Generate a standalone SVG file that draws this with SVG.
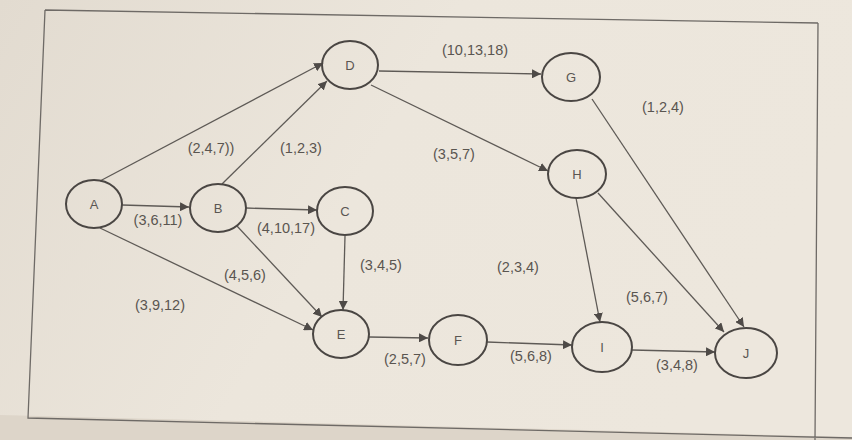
<svg xmlns="http://www.w3.org/2000/svg" width="852" height="440" viewBox="0 0 852 440">
<defs>
<linearGradient id="paper" x1="0" y1="0" x2="1" y2="0.3">
<stop offset="0" stop-color="#e2dbd0"/>
<stop offset="0.5" stop-color="#ece6dc"/>
<stop offset="1" stop-color="#ede7dd"/>
</linearGradient>
<marker id="arr" viewBox="0 0 10 10" refX="10" refY="5" markerWidth="9" markerHeight="9" markerUnits="userSpaceOnUse" orient="auto">
<path d="M0,0 L10,5 L0,10 z" fill="#4e4a47"/>
</marker>
<style>
.node ellipse{fill:none;stroke:#4a4643;stroke-width:2}
.node text{font-family:"Liberation Sans",Arial,sans-serif;font-size:13px;fill:#5a5652;text-anchor:middle;dominant-baseline:central}
#edges line{stroke:#5e5a56;stroke-width:1.3;marker-end:url(#arr)}
.lbl{font-family:"Liberation Sans",Arial,sans-serif;font-size:14.5px;fill:#5a5550;text-anchor:middle;dominant-baseline:central}
</style>
</defs>
<rect width="852" height="440" fill="url(#paper)"/>
<polygon points="0,415 852,437 852,440 0,440" fill="#ddd5c9"/>
<path d="M45,10 L818,23 M818,23 L815,440 M45,10 L28,418 L852,438" fill="none" stroke="#6e6a66" stroke-width="1.3"/>

<g id="edges">
<line x1="100" y1="181" x2="323" y2="63"/>
<line x1="122" y1="205" x2="189" y2="207"/>
<line x1="100" y1="228" x2="313" y2="330"/>
<line x1="222" y1="184" x2="327" y2="81"/>
<line x1="246" y1="208" x2="317" y2="210"/>
<line x1="237" y1="226" x2="322" y2="317"/>
<line x1="345" y1="236" x2="343" y2="310"/>
<line x1="379" y1="71" x2="541" y2="74"/>
<line x1="371" y1="85" x2="548" y2="171"/>
<line x1="592" y1="99" x2="744" y2="327"/>
<line x1="576" y1="198" x2="600" y2="322"/>
<line x1="598" y1="193" x2="724" y2="332"/>
<line x1="369" y1="337" x2="428" y2="338"/>
<line x1="487" y1="342" x2="572" y2="345"/>
<line x1="632" y1="350" x2="715" y2="352"/>
</g>

<g id="A" class="node"><ellipse cx="94" cy="204" rx="28" ry="24"/><text x="94" y="204">A</text></g>
<g id="B" class="node"><ellipse cx="218" cy="208" rx="28" ry="24"/><text x="218" y="208">B</text></g>
<g id="C" class="node"><ellipse cx="345" cy="211" rx="28" ry="24"/><text x="345" y="211">C</text></g>
<g id="D" class="node"><ellipse cx="350" cy="65" rx="28" ry="24"/><text x="350" y="65">D</text></g>
<g id="G" class="node"><ellipse cx="571" cy="77" rx="29" ry="24"/><text x="571" y="77">G</text></g>
<g id="H" class="node"><ellipse cx="577" cy="174" rx="29" ry="24"/><text x="577" y="174">H</text></g>
<g id="E" class="node"><ellipse cx="341" cy="334" rx="28" ry="24"/><text x="341" y="334">E</text></g>
<g id="F" class="node"><ellipse cx="458" cy="340" rx="29" ry="25"/><text x="458" y="340">F</text></g>
<g id="I" class="node"><ellipse cx="602" cy="347" rx="30" ry="25"/><text x="602" y="347">I</text></g>
<g id="J" class="node"><ellipse cx="746" cy="353" rx="31" ry="25"/><text x="746" y="353">J</text></g>

<g id="labels">
<text class="lbl" x="475" y="50">(10,13,18)</text>
<text class="lbl" x="663" y="107">(1,2,4)</text>
<text class="lbl" x="211" y="148">(2,4,7))</text>
<text class="lbl" x="301" y="148">(1,2,3)</text>
<text class="lbl" x="454" y="154">(3,5,7)</text>
<text class="lbl" x="158" y="220">(3,6,11)</text>
<text class="lbl" x="286" y="228">(4,10,17)</text>
<text class="lbl" x="381" y="265">(3,4,5)</text>
<text class="lbl" x="518" y="267">(2,3,4)</text>
<text class="lbl" x="245" y="275">(4,5,6)</text>
<text class="lbl" x="160" y="305">(3,9,12)</text>
<text class="lbl" x="647" y="297">(5,6,7)</text>
<text class="lbl" x="405" y="359">(2,5,7)</text>
<text class="lbl" x="531" y="356">(5,6,8)</text>
<text class="lbl" x="677" y="365">(3,4,8)</text>
</g>
</svg>
